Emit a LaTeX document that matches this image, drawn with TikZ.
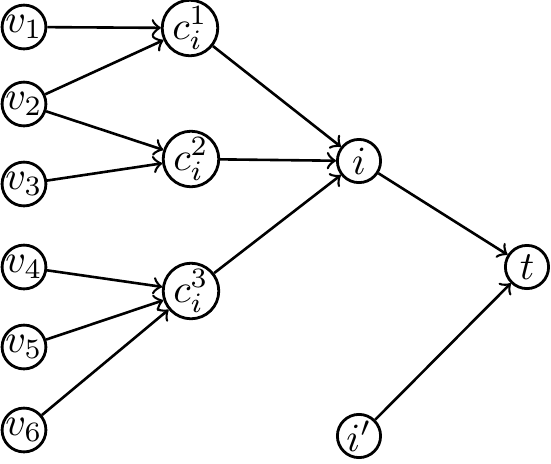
\documentclass[tikz,border=0pt]{standalone}
\begin{document}
\begin{tikzpicture}[x=0.25pt,y=-0.25pt,
  vtx/.style={circle,draw,line width=0.7pt,minimum size=10.8pt,inner sep=0pt},
  edge/.style={->,line width=0.65pt}]
\useasboundingbox (0,0) rectangle (551,464);
\node[vtx] (v1) at (24,27) {$v_1$};
\node[vtx] (v2) at (24,104) {$v_2$};
\node[vtx] (v3) at (24,184) {$v_3$};
\node[vtx] (v4) at (24,267) {$v_4$};
\node[vtx] (v5) at (24,347) {$v_5$};
\node[vtx] (v6) at (24,430) {$v_6$};
\node[vtx] (c1) at (190,28) {$c_i^1$};
\node[vtx] (c2) at (191,159) {$c_i^2$};
\node[vtx] (c3) at (191,291) {$c_i^3$};
\node[vtx] (i) at (359,161) {$i$};
\node[vtx] (t) at (527,267) {$t$};
\node[vtx] (ip) at (359,436) {$i'$};
\draw[edge] (v1) -- (c1);
\draw[edge] (v2) -- (c1);
\draw[edge] (v2) -- (c2);
\draw[edge] (v3) -- (c2);
\draw[edge] (v4) -- (c3);
\draw[edge] (v5) -- (c3);
\draw[edge] (v6) -- (c3);
\draw[edge] (c1) -- (i);
\draw[edge] (c2) -- (i);
\draw[edge] (c3) -- (i);
\draw[edge] (i) -- (t);
\draw[edge] (ip) -- (t);
\end{tikzpicture}
\end{document}
